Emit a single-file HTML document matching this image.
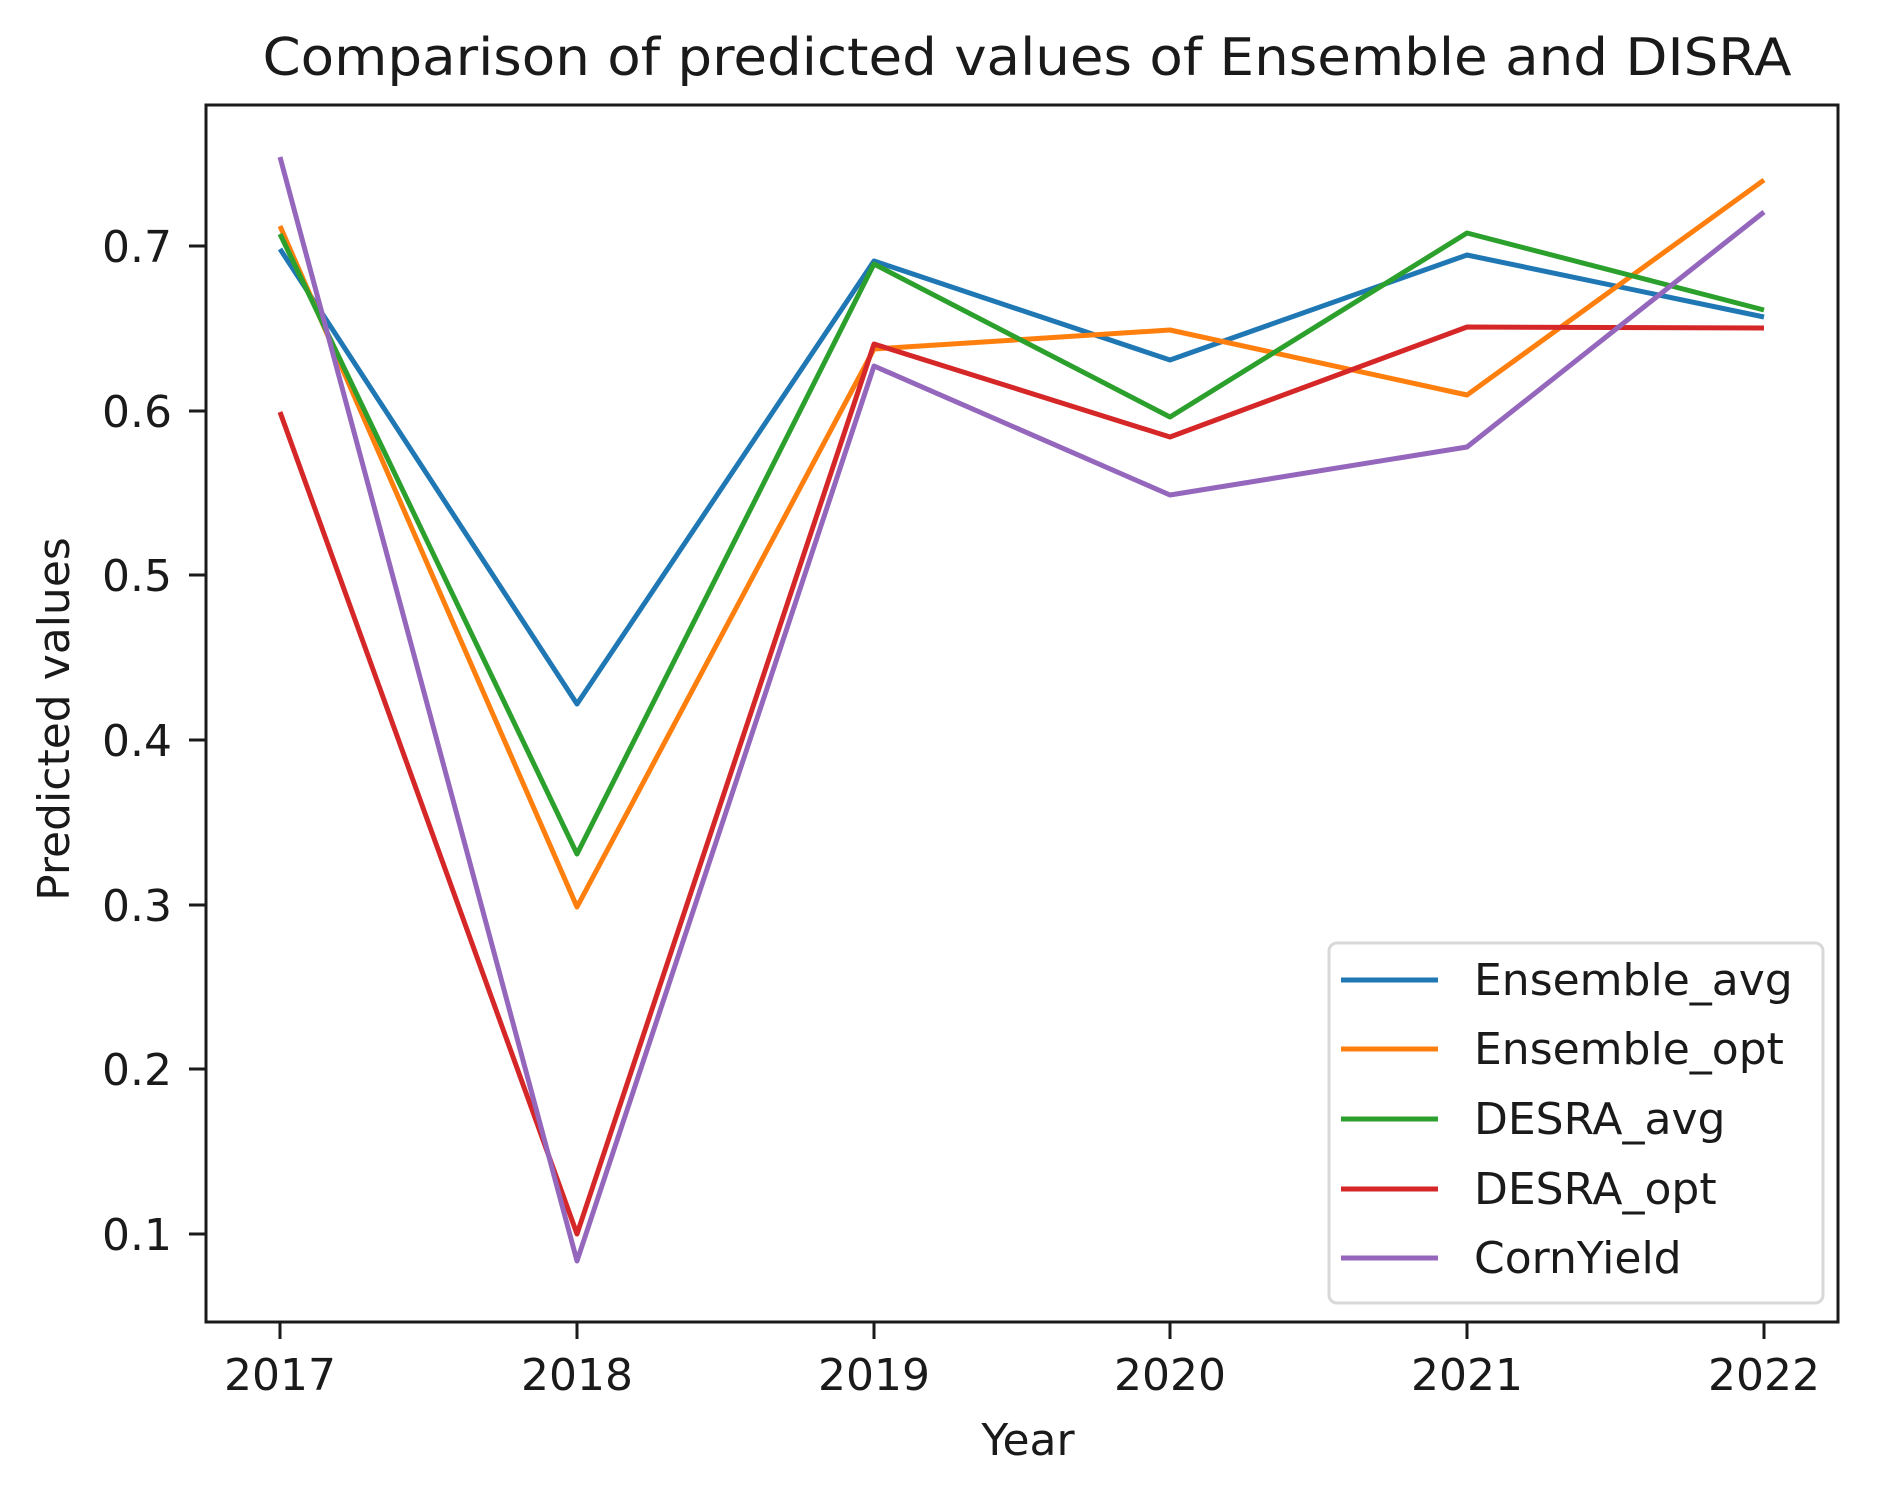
<!DOCTYPE html>
<html><head><style>html,body{margin:0;padding:0;background:#fff}</style></head><body>
<svg width="1880" height="1487" xmlns="http://www.w3.org/2000/svg" font-family="DejaVu Sans, Liberation Sans, sans-serif" fill="#1a1a1a">
<rect width="1880" height="1487" fill="#fff"/>
<text x="1027" y="75" font-size="52" text-anchor="middle" textLength="1529" lengthAdjust="spacingAndGlyphs">Comparison of predicted values of Ensemble and DISRA</text>
<g fill="none" stroke-width="5" stroke-linejoin="round">
<polyline stroke="#1f77b4" points="280,249 577,704 874,261 1170,360 1467,255 1764,317"/>
<polyline stroke="#ff7f0e" points="280,226 577,907 874,349 1170,330 1467,395 1764,180"/>
<polyline stroke="#2ca02c" points="280,234 577,854 874,264 1170,417 1467,233 1764,310"/>
<polyline stroke="#d62728" points="280,412 577,1234 874,344 1170,437 1467,327 1764,328"/>
<polyline stroke="#9467bd" points="280,157 577,1261 874,366 1170,495 1467,447 1764,212"/>
</g>
<rect x="206" y="105" width="1632" height="1217" fill="none" stroke="#1a1a1a" stroke-width="3"/>
<g stroke="#1a1a1a" stroke-width="3">
<line x1="189" x2="206" y1="246" y2="246"/><line x1="189" x2="206" y1="411" y2="411"/>
<line x1="189" x2="206" y1="575" y2="575"/><line x1="189" x2="206" y1="740" y2="740"/>
<line x1="189" x2="206" y1="905" y2="905"/><line x1="189" x2="206" y1="1069" y2="1069"/>
<line x1="189" x2="206" y1="1234" y2="1234"/>
<line x1="280" x2="280" y1="1322" y2="1339"/><line x1="577" x2="577" y1="1322" y2="1339"/>
<line x1="874" x2="874" y1="1322" y2="1339"/><line x1="1170" x2="1170" y1="1322" y2="1339"/>
<line x1="1467" x2="1467" y1="1322" y2="1339"/><line x1="1764" x2="1764" y1="1322" y2="1339"/>
</g>
<g font-size="44" text-anchor="end">
<text x="172" y="262">0.7</text><text x="172" y="427">0.6</text><text x="172" y="591">0.5</text>
<text x="172" y="756">0.4</text><text x="172" y="921">0.3</text><text x="172" y="1085">0.2</text>
<text x="172" y="1250">0.1</text>
</g>
<g font-size="44" text-anchor="middle">
<text x="280" y="1390">2017</text><text x="577" y="1390">2018</text><text x="874" y="1390">2019</text>
<text x="1170" y="1390">2020</text><text x="1467" y="1390">2021</text><text x="1764" y="1390">2022</text>
<text x="1028" y="1455">Year</text>
</g>
<text font-size="44" text-anchor="middle" transform="translate(69,719) rotate(-90)">Predicted values</text>
<rect x="1329" y="943" width="494" height="360" rx="8" fill="#fff" stroke="#d8d8d8" stroke-width="3"/>
<g stroke-width="5">
<line x1="1341" x2="1438" y1="980" y2="980" stroke="#1f77b4"/>
<line x1="1341" x2="1438" y1="1049" y2="1049" stroke="#ff7f0e"/>
<line x1="1341" x2="1438" y1="1119" y2="1119" stroke="#2ca02c"/>
<line x1="1341" x2="1438" y1="1189" y2="1189" stroke="#d62728"/>
<line x1="1341" x2="1438" y1="1258" y2="1258" stroke="#9467bd"/>
</g>
<g font-size="44">
<text x="1474" y="995">Ensemble_avg</text><text x="1474" y="1064">Ensemble_opt</text>
<text x="1474" y="1134">DESRA_avg</text><text x="1474" y="1204">DESRA_opt</text>
<text x="1474" y="1273">CornYield</text>
</g>
</svg>
</body></html>
